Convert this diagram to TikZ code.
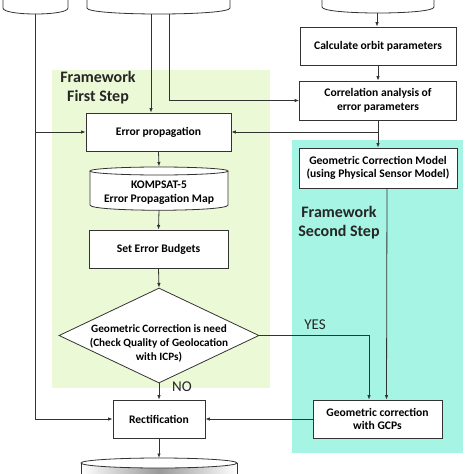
\documentclass[tikz,border=0pt]{standalone}
\usepackage{fontspec}
\setmainfont{Carlito}
\usetikzlibrary{arrows.meta,shapes.geometric}
\definecolor{lgreen}{HTML}{ECF9D6}
\definecolor{lcyan}{HTML}{A6F4E3}
\definecolor{ln}{HTML}{333333}
\tikzset{
  box/.style={draw=ln,line width=0.8pt,fill=white,align=center,inner sep=0pt,
    font=\fontsize{11.6}{13.5}\selectfont\bfseries},
  arr/.style={draw=ln,line width=0.8pt,-{Latex[length=4.5pt,width=3.5pt]}},
  ln/.style={draw=ln,line width=0.8pt},
  frame/.style={align=center,font=\fontsize{16}{19}\selectfont\bfseries,text=black!85},
  yn/.style={font=\fontsize{15}{16}\selectfont,text=black!85}
}
\begin{document}
\begin{tikzpicture}[x=1pt,y=-1pt]
\useasboundingbox (0,0) rectangle (474,474);
% background regions
\fill[lgreen] (52,70) rectangle (270,388);
\fill[lcyan] (292,140) rectangle (463,453);
% top cylinders (cut off)
\draw[ln,fill=white] (3,-5) -- (3,8) .. controls (3,16) and (68,16) .. (68,8) -- (68,-5);
\draw[ln,fill=white] (87,-5) -- (87,8) .. controls (87,16) and (230,16) .. (230,8) -- (230,-5);
\draw[ln,fill=white] (322,-5) -- (322,7) .. controls (322,15) and (434,15) .. (434,7) -- (434,-5);
\coordinate (s1) at (35,14);
\coordinate (s2) at (151,14);
\coordinate (s2b) at (169,14);
\coordinate (s3) at (377,13);
% boxes
\node[box,minimum width=156,minimum height=38] (calc) at (378,46) {Calculate orbit parameters};
\node[box,minimum width=157,minimum height=39] (corr) at (378,100.5) {Correlation analysis of\\error parameters};
\node[box,minimum width=158,minimum height=40] (gcm) at (378,168) {Geometric Correction Model\\(using Physical Sensor Model)};
\node[box,minimum width=145,minimum height=38] (errp) at (158.5,132) {Error propagation};
% KOMPSAT cylinder
\draw[ln,fill=white] (90,171) -- (90,205) .. controls (90,212) and (228,212) .. (228,205) -- (228,171);
\draw[ln,fill=white] (159,171) ellipse [x radius=69,y radius=4];
\node[align=center,inner sep=0pt,font=\fontsize{11.6}{14}\selectfont\bfseries,minimum width=138,minimum height=43] (komp) at (159,188.5) {};
\node[align=center,inner sep=0pt,font=\fontsize{11.6}{14}\selectfont\bfseries] (kompt) at (159,193) {KOMPSAT-5\\Error Propagation Map};
\node[box,minimum width=139,minimum height=38] (budget) at (158.5,249) {Set Error Budgets};
\node[diamond,draw=ln,line width=0.8pt,fill=white,minimum width=200,minimum height=95,inner sep=0pt] (dia) at (159,335.5) {};
\node[align=center,font=\fontsize{11.2}{14}\selectfont\bfseries] (diat) at (159,343) {Geometric Correction is need\\(Check Quality of Geolocation\\with ICPs)};
\node[box,minimum width=92,minimum height=38] (rect) at (159,419) {Rectification};
\node[box,minimum width=129,minimum height=38] (gcp) at (377.5,419) {Geometric correction\\with GCPs};
% bottom cylinder
\shade[left color=white,right color=white,middle color=gray!80] (81,463) rectangle (237,476);
\draw[ln] (81,463) -- (81,476) (237,463) -- (237,476);
\draw[ln,fill=white] (159,463) ellipse [x radius=78,y radius=5];
\coordinate (bc) at (159,458);
% labels
\node[frame] (f1) at (98,88) {Framework\\First Step};
\node[frame] (f2) at (339,223) {Framework\\Second Step};
\node[yn] (yes) at (315,325) {YES};
\node[yn] (no) at (182,387) {NO};
% connectors
\draw[arr] (s1) |- (rect.west);
\draw[arr] (s1 |- errp.west) -- (errp.west);
\draw[arr] (s2) -- (s2 |- errp.north);
\draw[arr] (s2b) |- (corr.west);
\draw[arr] (s3) -- (s3 |- calc.north);
\draw[arr] (calc.south) -- (corr.north);
\draw[arr] (corr.south) -- (gcm.north);
\draw[arr] (corr.south) |- (errp.east);
\draw[arr] (errp.south) -- (159,166.5);
\draw[arr] (komp.south) -- (budget.north);
\draw[arr] (budget.south) -- (dia.north);
\draw[arr] (dia.south) -- (rect.north);
\draw[arr] (dia.east) -| ([xshift=-8.5]gcp.north);
\draw[arr] ([xshift=9]gcm.south) -- ([xshift=9]gcp.north);
\draw[arr] (gcp.west) -- (rect.east);
\draw[arr] (rect.south) -- (bc);
\end{tikzpicture}
\end{document}
